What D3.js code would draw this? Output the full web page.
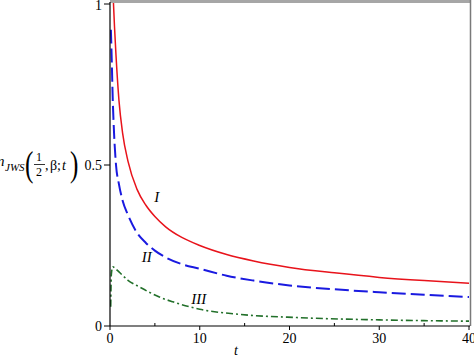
<!DOCTYPE html>
<html><head><meta charset="utf-8">
<script src="https://cdn.jsdelivr.net/npm/d3@7"></script>
<style>body{margin:0;background:#fff}svg{display:block}</style>
</head><body><svg id="c" width="474" height="360" font-family="'Liberation Serif', 'Times New Roman', 'DejaVu Serif', serif"></svg>
<script>
// Data
const tRed = [0.3, 0.39, 0.5, 0.67, 1.0, 1.4, 2, 3, 4, 5, 6.2, 8, 10, 13, 16, 20, 25, 30, 35, 40];
const vRed = [1.06, 1.0, 0.93, 0.84, 0.70, 0.60, 0.512, 0.425, 0.375, 0.34, 0.308, 0.275, 0.25, 0.222, 0.202, 0.182, 0.165, 0.151, 0.141, 0.133];
const tBlue = [0.1, 0.19, 0.3, 0.45, 0.67, 1.0, 1.4, 2, 3, 4, 5, 6.2, 8, 10, 13, 16, 20, 25, 30, 35, 40];
const vBlue = [0.92, 0.83, 0.71, 0.60, 0.50, 0.44, 0.39, 0.345, 0.29, 0.258, 0.234, 0.213, 0.192, 0.178, 0.156, 0.141, 0.126, 0.114, 0.105, 0.097, 0.09];
const tGreen = [0.08, 0.15, 0.3, 0.6, 1.0, 2.0, 3.3, 5.5, 7, 10, 14.5, 21, 30, 40];
const vGreen = [0.06, 0.16, 0.184, 0.178, 0.168, 0.142, 0.121, 0.09, 0.075, 0.052, 0.036, 0.026, 0.019, 0.015];
const xTicks = [0, 10, 20, 30, 40];
const xMinor = [5, 15, 25, 35];
const yTicks = [0, 0.5, 1];
const yTickLabels = ["0", "0.5", "1"];
const curveLabels = [{t: 5.2, v: 0.40, s: "I"}, {t: 4.1, v: 0.215, s: "II"}, {t: 9.9, v: 0.085, s: "III"}];

const svg = d3.select("#c");
const x = d3.scaleLinear().domain([0, 40]).range([110, 469]);
const y = d3.scaleLinear().domain([0, 1]).range([326, 4]);

// frame (grey top and right)
svg.append("line").attr("x1", 110).attr("x2", 471).attr("y1", 1.5).attr("y2", 1.5)
  .attr("stroke", "#a6a6a6").attr("stroke-width", 3);
svg.append("line").attr("x1", 470.5).attr("x2", 470.5).attr("y1", 0).attr("y2", 326)
  .attr("stroke", "#7a7a7a").attr("stroke-width", 1.5);

svg.append("clipPath").attr("id", "clip").append("rect")
  .attr("x", 110).attr("y", 3).attr("width", 362).attr("height", 330);

const series = [
  {t: tRed, v: vRed, color: "#e8131b", dash: null, w: 1.5},
  {t: tBlue, v: vBlue, color: "#1a1ae0", dash: "14,5", w: 2},
  {t: tGreen, v: vGreen, color: "#22702a", dash: "7,3,2,3", w: 1.6}
];
const line = d3.line().x(d => x(d[0])).y(d => y(d[1])).curve(d3.curveMonotoneX);
const g = svg.append("g").attr("clip-path", "url(#clip)");
series.forEach(s => {
  g.append("path").datum(s.t.map((t, i) => [t, s.v[i]]))
    .attr("d", line).attr("fill", "none").attr("stroke", s.color)
    .attr("stroke-width", s.w).attr("stroke-dasharray", s.dash);
});

// axes
const xAxis = svg.append("g").attr("transform", "translate(0,326)");
xAxis.append("line").attr("x1", 110).attr("x2", 470).attr("stroke", "#000").attr("stroke-width", 1.2);
xTicks.forEach(t => {
  xAxis.append("line").attr("x1", x(t)).attr("x2", x(t)).attr("y1", 0).attr("y2", 4).attr("stroke", "#000");
  xAxis.append("text").attr("x", x(t)).attr("y", 17).attr("text-anchor", "middle")
    .attr("font-size", 14).text(t);
});
xMinor.forEach(t => {
  xAxis.append("line").attr("x1", x(t)).attr("x2", x(t)).attr("y1", 0).attr("y2", -3).attr("stroke", "#000");
});
const yAxis = svg.append("g");
yAxis.append("line").attr("x1", 110).attr("x2", 110).attr("y1", 2).attr("y2", 326).attr("stroke", "#000").attr("stroke-width", 1.2);
yTicks.forEach((v, i) => {
  yAxis.append("line").attr("x1", 104).attr("x2", 110).attr("y1", y(v)).attr("y2", y(v)).attr("stroke", "#000");
  yAxis.append("text").attr("x", 102).attr("y", Math.max(y(v) + 4.5, 10)).attr("text-anchor", "end")
    .attr("font-size", 14).text(yTickLabels[i]);
});

// x label
svg.append("text").attr("x", 236).attr("y", 355).attr("text-anchor", "middle")
  .attr("font-size", 14).attr("font-style", "italic").text("t");

// curve labels
curveLabels.forEach(l => {
  svg.append("text").attr("x", x(l.t)).attr("y", y(l.v) + 5).attr("text-anchor", "middle")
    .attr("font-size", 15).attr("font-style", "italic").text(l.s);
});

// y label n_JWS(1/2, β; t)
const yl = svg.append("g");
yl.append("text").attr("x", -3).attr("y", 166).attr("font-size", 15).attr("font-style", "italic").text("n");
yl.append("text").attr("x", 5).attr("y", 171).attr("font-size", 11).attr("font-style", "italic").text("JWS");
yl.append("text").attr("x", 25).attr("y", 176).attr("font-size", 36)
  .attr("transform", "translate(25,176) scale(0.7,1) translate(-25,-176)").text("(");
yl.append("text").attr("x", 39).attr("y", 161).attr("font-size", 12).attr("text-anchor", "middle").text("1");
yl.append("line").attr("x1", 34).attr("x2", 45).attr("y1", 164.5).attr("y2", 164.5).attr("stroke", "#000").attr("stroke-width", 0.8);
yl.append("text").attr("x", 39).attr("y", 176).attr("font-size", 12).attr("text-anchor", "middle").text("2");
yl.append("text").attr("x", 45).attr("y", 170).attr("font-size", 14).text(",");
yl.append("text").attr("x", 50).attr("y", 170).attr("font-size", 14).text("β;");
yl.append("text").attr("x", 62).attr("y", 170).attr("font-size", 14).attr("font-style", "italic").text("t");
yl.append("text").attr("x", 70).attr("y", 176).attr("font-size", 36)
  .attr("transform", "translate(70,176) scale(0.7,1) translate(-70,-176)").text(")");
</script></body></html>
